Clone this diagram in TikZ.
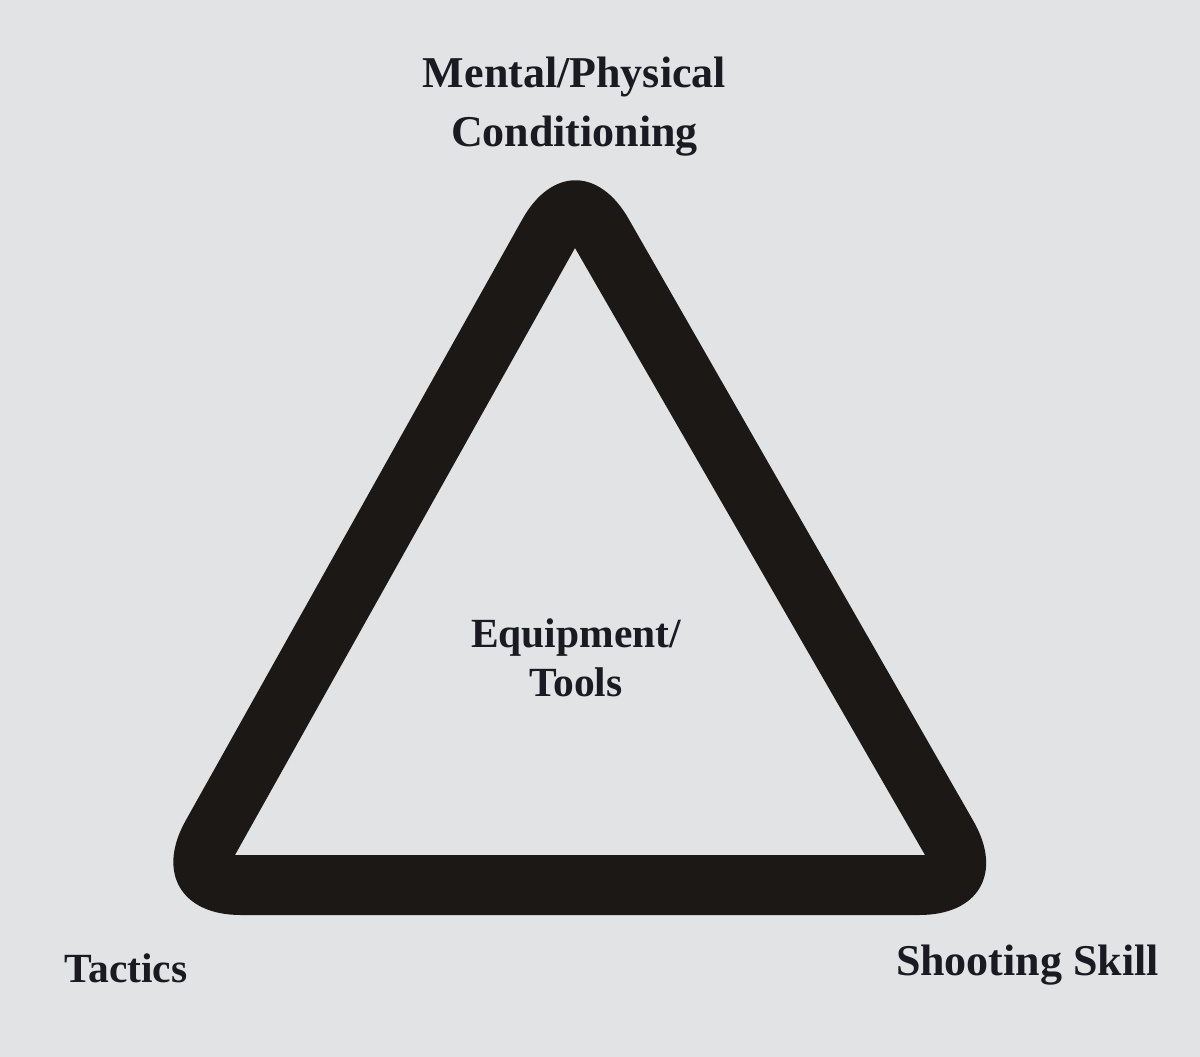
\documentclass[tikz,border=0pt]{standalone}
\usepackage{fontspec}
\setmainfont{Liberation Serif}
\usetikzlibrary{calc}
\definecolor{paper}{HTML}{E2E3E5}
\definecolor{ink}{HTML}{1C1816}
\definecolor{textink}{HTML}{1B1A22}
\begin{document}
\begin{tikzpicture}[x=1pt,y=-1pt,
  lbl/.style={inner sep=0pt, anchor=base, text=textink, font=\bfseries\fontsize{44}{50}\selectfont},
  lblsm/.style={lbl, font=\bfseries\fontsize{41.5}{50}\selectfont},
  ring/.style={fill=ink, even odd rule}]
  \useasboundingbox (0,0) rectangle (1200,1057);
  \fill[paper] (0,0) rectangle (1200,1057);
  % outer (rounded) and inner (sharp) outlines of the triangle band
  \coordinate (Oa) at (575,125.2);
  \coordinate (Ob) at (132.8,915);
  \coordinate (Oc) at (1027.2,915);
  \coordinate (Ia) at (575,248);
  \coordinate (Ib) at (235,855);
  \coordinate (Ic) at (925,855);
  \path[ring] [rounded corners=108pt] ($(Oa)!0.5!(Ob)$) -- (Ob) -- (Oc) -- (Oa) -- cycle
    [sharp corners] (Ia) -- (Ib) -- (Ic) -- cycle;
  % labels
  \node[lbl] (mp1) at (574.5,88) {Mental/Physical};
  \node[lbl] (mp2) at (574.5,146) {Conditioning};
  \node[lblsm] (eq1) at (576,647) {Equipment/};
  \node[lblsm] (eq2) at (576,696) {Tools};
  \node[lblsm] (tac) at (126,982) {Tactics};
  \node[lbl] (sks) at (1027.5,975) {Shooting Skill};
\end{tikzpicture}
\end{document}
